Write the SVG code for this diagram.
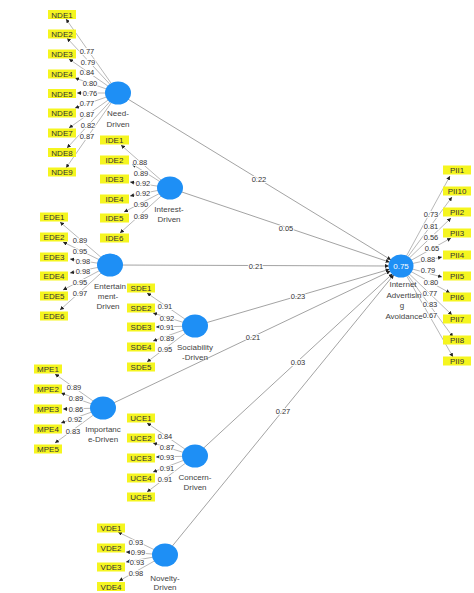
<svg xmlns="http://www.w3.org/2000/svg" width="474" height="593" viewBox="0 0 474 593">
<style>
.bg{fill:#fff}
.ln{stroke:#9a9a9a;stroke-width:0.7;fill:none}
.sp{stroke:#8c8c8c;stroke-width:0.8;fill:none}
.box{fill:#f5f51f}
.bt{font-family:"Liberation Sans",Arial,sans-serif;font-size:8px;fill:#333;text-anchor:middle}
.lt{font-family:"Liberation Sans",Arial,sans-serif;font-size:7.5px;fill:#333;text-anchor:middle;stroke:#fff;stroke-width:2;paint-order:stroke;stroke-linejoin:round}
.nc{fill:#1e8ff5}
.nt{font-family:"Liberation Sans",Arial,sans-serif;font-size:8px;fill:#444;text-anchor:middle}
.wt{font-family:"Liberation Sans",Arial,sans-serif;font-size:8px;fill:#fff;text-anchor:middle}
</style>
<defs>
<marker id="ah" markerUnits="userSpaceOnUse" markerWidth="4" markerHeight="4" refX="4" refY="2" orient="auto"><path d="M0,0 L4,2 L0,4 z" fill="#222"/></marker>
</defs>
<rect class="bg" x="0" y="0" width="474" height="593"/>
<g id="connectors">
<!-- structural paths -->
<g marker-end="url(#ah)">
<line class="sp" x1="118" y1="93" x2="391" y2="259.9"/>
<line class="sp" x1="170" y1="188" x2="389.7" y2="262.2"/>
<line class="sp" x1="110" y1="265" x2="389" y2="266"/>
<line class="sp" x1="195" y1="326" x2="389.6" y2="269.3"/>
<line class="sp" x1="103" y1="408" x2="390.4" y2="271.1"/>
<line class="sp" x1="195" y1="456" x2="392.5" y2="273.8"/>
<line class="sp" x1="165" y1="555" x2="393.8" y2="274.8"/>
</g>
<text class="lt" x="259" y="182">0.22</text>
<text class="lt" x="286" y="230.5">0.05</text>
<text class="lt" x="256" y="268.5">0.21</text>
<text class="lt" x="298" y="298.5">0.23</text>
<text class="lt" x="253" y="339.5">0.21</text>
<text class="lt" x="298" y="364.5">0.03</text>
<text class="lt" x="283" y="413.5">0.27</text>
<!-- measurement: Need-Driven -->
<g marker-end="url(#ah)">
<line class="ln" x1="118" y1="93" x2="66" y2="19"/>
<line class="ln" x1="118" y1="93" x2="67" y2="38"/>
<line class="ln" x1="118" y1="93" x2="69" y2="59"/>
<line class="ln" x1="118" y1="93" x2="75" y2="78"/>
<line class="ln" x1="118" y1="93" x2="77" y2="93"/>
<line class="ln" x1="118" y1="93" x2="75" y2="108"/>
<line class="ln" x1="118" y1="93" x2="69" y2="128"/>
<line class="ln" x1="118" y1="93" x2="67" y2="148"/>
<line class="ln" x1="118" y1="93" x2="66" y2="168"/>
</g>
<text class="lt" x="87" y="53.5">0.77</text>
<text class="lt" x="88" y="64.5">0.79</text>
<text class="lt" x="87" y="74.5">0.84</text>
<text class="lt" x="90" y="85.5">0.80</text>
<text class="lt" x="90" y="95.5">0.76</text>
<text class="lt" x="87" y="105.5">0.77</text>
<text class="lt" x="87" y="116.5">0.87</text>
<text class="lt" x="88" y="127.5">0.82</text>
<text class="lt" x="87" y="138.5">0.87</text>
<!-- Interest-Driven -->
<g marker-end="url(#ah)">
<line class="ln" x1="170" y1="188" x2="121" y2="145"/>
<line class="ln" x1="170" y1="188" x2="132" y2="164"/>
<line class="ln" x1="170" y1="188" x2="130" y2="182"/>
<line class="ln" x1="170" y1="188" x2="130" y2="196"/>
<line class="ln" x1="170" y1="188" x2="124" y2="212"/>
<line class="ln" x1="170" y1="188" x2="120" y2="233"/>
</g>
<text class="lt" x="140" y="164.5">0.88</text>
<text class="lt" x="141" y="175.5">0.89</text>
<text class="lt" x="143" y="185.5">0.92</text>
<text class="lt" x="143" y="195.5">0.92</text>
<text class="lt" x="141" y="206.5">0.90</text>
<text class="lt" x="141" y="218.5">0.89</text>
<!-- Entertainment-Driven -->
<g marker-end="url(#ah)">
<line class="ln" x1="110" y1="265" x2="60" y2="222"/>
<line class="ln" x1="110" y1="265" x2="63" y2="242"/>
<line class="ln" x1="110" y1="265" x2="70" y2="259"/>
<line class="ln" x1="110" y1="265" x2="70" y2="273"/>
<line class="ln" x1="110" y1="265" x2="63" y2="290"/>
<line class="ln" x1="110" y1="265" x2="60" y2="310"/>
</g>
<text class="lt" x="80" y="242.5">0.89</text>
<text class="lt" x="80" y="253.5">0.95</text>
<text class="lt" x="83" y="263.5">0.98</text>
<text class="lt" x="83" y="273.5">0.98</text>
<text class="lt" x="80" y="284.5">0.95</text>
<text class="lt" x="80" y="295.5">0.97</text>
<!-- Sociability-Driven -->
<g marker-end="url(#ah)">
<line class="ln" x1="195" y1="326" x2="147" y2="293"/>
<line class="ln" x1="195" y1="326" x2="153" y2="313"/>
<line class="ln" x1="195" y1="326" x2="156" y2="327"/>
<line class="ln" x1="195" y1="326" x2="153" y2="341"/>
<line class="ln" x1="195" y1="326" x2="147" y2="362"/>
</g>
<text class="lt" x="165" y="308.5">0.91</text>
<text class="lt" x="167" y="320.5">0.92</text>
<text class="lt" x="167" y="329.5">0.91</text>
<text class="lt" x="167" y="340.5">0.89</text>
<text class="lt" x="165" y="351.5">0.95</text>
<!-- Importance-Driven -->
<g marker-end="url(#ah)">
<line class="ln" x1="103" y1="408" x2="55" y2="374"/>
<line class="ln" x1="103" y1="408" x2="61" y2="393"/>
<line class="ln" x1="103" y1="408" x2="63" y2="409"/>
<line class="ln" x1="103" y1="408" x2="61" y2="423"/>
<line class="ln" x1="103" y1="408" x2="55" y2="443"/>
</g>
<text class="lt" x="74" y="389.5">0.89</text>
<text class="lt" x="76" y="400.5">0.89</text>
<text class="lt" x="76" y="411.5">0.86</text>
<text class="lt" x="75" y="421.5">0.92</text>
<text class="lt" x="73" y="433.5">0.83</text>
<!-- Concern-Driven -->
<g marker-end="url(#ah)">
<line class="ln" x1="195" y1="456" x2="147" y2="423"/>
<line class="ln" x1="195" y1="456" x2="153" y2="443"/>
<line class="ln" x1="195" y1="456" x2="156" y2="457"/>
<line class="ln" x1="195" y1="456" x2="153" y2="472"/>
<line class="ln" x1="195" y1="456" x2="147" y2="492"/>
</g>
<text class="lt" x="165" y="438.5">0.84</text>
<text class="lt" x="167" y="449.5">0.87</text>
<text class="lt" x="167" y="459.5">0.93</text>
<text class="lt" x="167" y="470.5">0.91</text>
<text class="lt" x="165" y="481.5">0.91</text>
<!-- Novelty-Driven -->
<g marker-end="url(#ah)">
<line class="ln" x1="165" y1="555" x2="118" y2="532"/>
<line class="ln" x1="165" y1="555" x2="126" y2="552"/>
<line class="ln" x1="165" y1="555" x2="126" y2="562"/>
<line class="ln" x1="165" y1="555" x2="119" y2="581"/>
</g>
<text class="lt" x="136" y="544.5">0.93</text>
<text class="lt" x="138" y="554.5">0.99</text>
<text class="lt" x="137" y="564.5">0.93</text>
<text class="lt" x="136" y="575.5">0.98</text>
<!-- Internet Advertising Avoidance -->
<g marker-end="url(#ah)">
<line class="ln" x1="401" y1="266" x2="450" y2="176"/>
<line class="ln" x1="401" y1="266" x2="452" y2="197"/>
<line class="ln" x1="401" y1="266" x2="451" y2="218"/>
<line class="ln" x1="401" y1="266" x2="451" y2="238"/>
<line class="ln" x1="401" y1="266" x2="442" y2="257"/>
<line class="ln" x1="401" y1="266" x2="442" y2="277"/>
<line class="ln" x1="401" y1="266" x2="450" y2="293"/>
<line class="ln" x1="401" y1="266" x2="452" y2="315"/>
<line class="ln" x1="401" y1="266" x2="453" y2="337"/>
<line class="ln" x1="401" y1="266" x2="453" y2="357"/>
</g>
<text class="lt" x="431" y="216.5">0.73</text>
<text class="lt" x="431" y="228.5">0.81</text>
<text class="lt" x="431" y="239.5">0.56</text>
<text class="lt" x="432" y="250.5">0.65</text>
<text class="lt" x="428" y="261.5">0.88</text>
<text class="lt" x="428" y="272.5">0.79</text>
<text class="lt" x="431" y="284.5">0.80</text>
<text class="lt" x="430" y="295.5">0.77</text>
<text class="lt" x="430" y="306.5">0.83</text>
<text class="lt" x="430" y="317.5">0.67</text>
</g>
<g id="need-driven">
<ellipse class="nc" cx="118" cy="93" rx="13" ry="11.5"/>
<text class="nt" x="118" y="116">Need-</text>
<text class="nt" x="118" y="126.5">Driven</text>
</g>
<g id="interest-driven">
<ellipse class="nc" cx="170" cy="188" rx="13" ry="11.5"/>
<text class="nt" x="169" y="212">Interest-</text>
<text class="nt" x="169" y="222">Driven</text>
</g>
<g id="entertainment-driven">
<ellipse class="nc" cx="110" cy="265" rx="13" ry="11.5"/>
<text class="nt" x="110" y="288.5">Entertain</text>
<text class="nt" x="108" y="298.5">ment-</text>
<text class="nt" x="108" y="309">Driven</text>
</g>
<g id="sociability-driven">
<ellipse class="nc" cx="195" cy="326" rx="13" ry="11.5"/>
<text class="nt" x="195" y="349.5">Sociability</text>
<text class="nt" x="195" y="359.5">-Driven</text>
</g>
<g id="importance-driven">
<ellipse class="nc" cx="103" cy="408" rx="13" ry="11.5"/>
<text class="nt" x="103" y="431.5">Importanc</text>
<text class="nt" x="103" y="441.5">e-Driven</text>
</g>
<g id="concern-driven">
<ellipse class="nc" cx="195" cy="456" rx="13" ry="11.5"/>
<text class="nt" x="195" y="479.5">Concern-</text>
<text class="nt" x="195" y="489.5">Driven</text>
</g>
<g id="novelty-driven">
<ellipse class="nc" cx="165" cy="555" rx="13" ry="11.5"/>
<text class="nt" x="165" y="580.5">Novelty-</text>
<text class="nt" x="165" y="590">Driven</text>
</g>
<g id="internet-advertising-avoidance">
<ellipse class="nc" cx="401" cy="266" rx="12.5" ry="11.5"/>
<text class="wt" x="401" y="269">0.75</text>
<text class="nt" x="403" y="287">Internet</text>
<text class="nt" x="404" y="297.5">Advertisin</text>
<text class="nt" x="402" y="308">g</text>
<text class="nt" x="404" y="318.5">Avoidance</text>
</g>
<g id="nde-indicators">
<rect class="box" x="48" y="10" width="28" height="9"/><text class="bt" x="62" y="17.5">NDE1</text>
<rect class="box" x="48" y="29.5" width="28" height="9"/><text class="bt" x="62" y="37">NDE2</text>
<rect class="box" x="48" y="49.5" width="28" height="9"/><text class="bt" x="62" y="57">NDE3</text>
<rect class="box" x="48" y="69.5" width="28" height="9"/><text class="bt" x="62" y="77">NDE4</text>
<rect class="box" x="48" y="89" width="28" height="9"/><text class="bt" x="62" y="96.5">NDE5</text>
<rect class="box" x="48" y="108.5" width="28" height="9"/><text class="bt" x="62" y="116">NDE6</text>
<rect class="box" x="48" y="128.5" width="28" height="9"/><text class="bt" x="62" y="136">NDE7</text>
<rect class="box" x="48" y="148" width="28" height="9"/><text class="bt" x="62" y="155.5">NDE8</text>
<rect class="box" x="48" y="167.5" width="28" height="9"/><text class="bt" x="62" y="175">NDE9</text>
</g>
<g id="ide-indicators">
<rect class="box" x="100" y="135.5" width="29" height="9"/><text class="bt" x="114.5" y="143">IDE1</text>
<rect class="box" x="100" y="155.5" width="29" height="9"/><text class="bt" x="114.5" y="163">IDE2</text>
<rect class="box" x="100" y="174.5" width="29" height="9"/><text class="bt" x="114.5" y="182">IDE3</text>
<rect class="box" x="100" y="194.5" width="29" height="9"/><text class="bt" x="114.5" y="202">IDE4</text>
<rect class="box" x="100" y="213.5" width="29" height="9"/><text class="bt" x="114.5" y="221">IDE5</text>
<rect class="box" x="100" y="233.5" width="29" height="9"/><text class="bt" x="114.5" y="241">IDE6</text>
</g>
<g id="ede-indicators">
<rect class="box" x="40" y="212.5" width="28" height="9"/><text class="bt" x="54" y="220">EDE1</text>
<rect class="box" x="40" y="232.5" width="28" height="9"/><text class="bt" x="54" y="240">EDE2</text>
<rect class="box" x="40" y="252.5" width="28" height="9"/><text class="bt" x="54" y="260">EDE3</text>
<rect class="box" x="40" y="271.5" width="28" height="9"/><text class="bt" x="54" y="279">EDE4</text>
<rect class="box" x="40" y="291.5" width="28" height="9"/><text class="bt" x="54" y="299">EDE5</text>
<rect class="box" x="40" y="311.5" width="28" height="9"/><text class="bt" x="54" y="319">EDE6</text>
</g>
<g id="sde-indicators">
<rect class="box" x="127" y="283.5" width="28" height="9"/><text class="bt" x="141" y="291">SDE1</text>
<rect class="box" x="127" y="303.5" width="28" height="9"/><text class="bt" x="141" y="311">SDE2</text>
<rect class="box" x="127" y="322.5" width="28" height="9"/><text class="bt" x="141" y="330">SDE3</text>
<rect class="box" x="127" y="342.5" width="28" height="9"/><text class="bt" x="141" y="350">SDE4</text>
<rect class="box" x="127" y="362.5" width="28" height="9"/><text class="bt" x="141" y="370">SDE5</text>
</g>
<g id="mpe-indicators">
<rect class="box" x="34" y="364.5" width="28" height="9"/><text class="bt" x="48" y="372">MPE1</text>
<rect class="box" x="34" y="384.5" width="28" height="9"/><text class="bt" x="48" y="392">MPE2</text>
<rect class="box" x="34" y="404.5" width="28" height="9"/><text class="bt" x="48" y="412">MPE3</text>
<rect class="box" x="34" y="424.5" width="28" height="9"/><text class="bt" x="48" y="432">MPE4</text>
<rect class="box" x="34" y="444.5" width="28" height="9"/><text class="bt" x="48" y="452">MPE5</text>
</g>
<g id="uce-indicators">
<rect class="box" x="127" y="413.5" width="28" height="9"/><text class="bt" x="141" y="421">UCE1</text>
<rect class="box" x="127" y="433.5" width="28" height="9"/><text class="bt" x="141" y="441">UCE2</text>
<rect class="box" x="127" y="453.5" width="28" height="9"/><text class="bt" x="141" y="461">UCE3</text>
<rect class="box" x="127" y="473.5" width="28" height="9"/><text class="bt" x="141" y="481">UCE4</text>
<rect class="box" x="127" y="492.5" width="28" height="9"/><text class="bt" x="141" y="500">UCE5</text>
</g>
<g id="vde-indicators">
<rect class="box" x="97" y="523.5" width="28" height="9"/><text class="bt" x="111" y="531">VDE1</text>
<rect class="box" x="97" y="543.5" width="28" height="9"/><text class="bt" x="111" y="551">VDE2</text>
<rect class="box" x="97" y="562.5" width="28" height="9"/><text class="bt" x="111" y="570">VDE3</text>
<rect class="box" x="97" y="582" width="28" height="9"/><text class="bt" x="111" y="589.5">VDE4</text>
</g>
<g id="pii-indicators">
<rect class="box" x="443" y="165.5" width="28" height="9"/><text class="bt" x="457" y="173">PII1</text>
<rect class="box" x="443" y="186.5" width="28" height="9"/><text class="bt" x="457" y="194">PII10</text>
<rect class="box" x="443" y="207.5" width="28" height="9"/><text class="bt" x="457" y="215">PII2</text>
<rect class="box" x="443" y="228.5" width="28" height="9"/><text class="bt" x="457" y="236">PII3</text>
<rect class="box" x="443" y="250.5" width="28" height="9"/><text class="bt" x="457" y="258">PII4</text>
<rect class="box" x="443" y="271.5" width="28" height="9"/><text class="bt" x="457" y="279">PII5</text>
<rect class="box" x="443" y="292.5" width="28" height="9"/><text class="bt" x="457" y="300">PII6</text>
<rect class="box" x="443" y="314.5" width="28" height="9"/><text class="bt" x="457" y="322">PII7</text>
<rect class="box" x="443" y="335.5" width="28" height="9"/><text class="bt" x="457" y="343">PII8</text>
<rect class="box" x="443" y="356.5" width="28" height="9"/><text class="bt" x="457" y="364">PII9</text>
</g>
</svg>
